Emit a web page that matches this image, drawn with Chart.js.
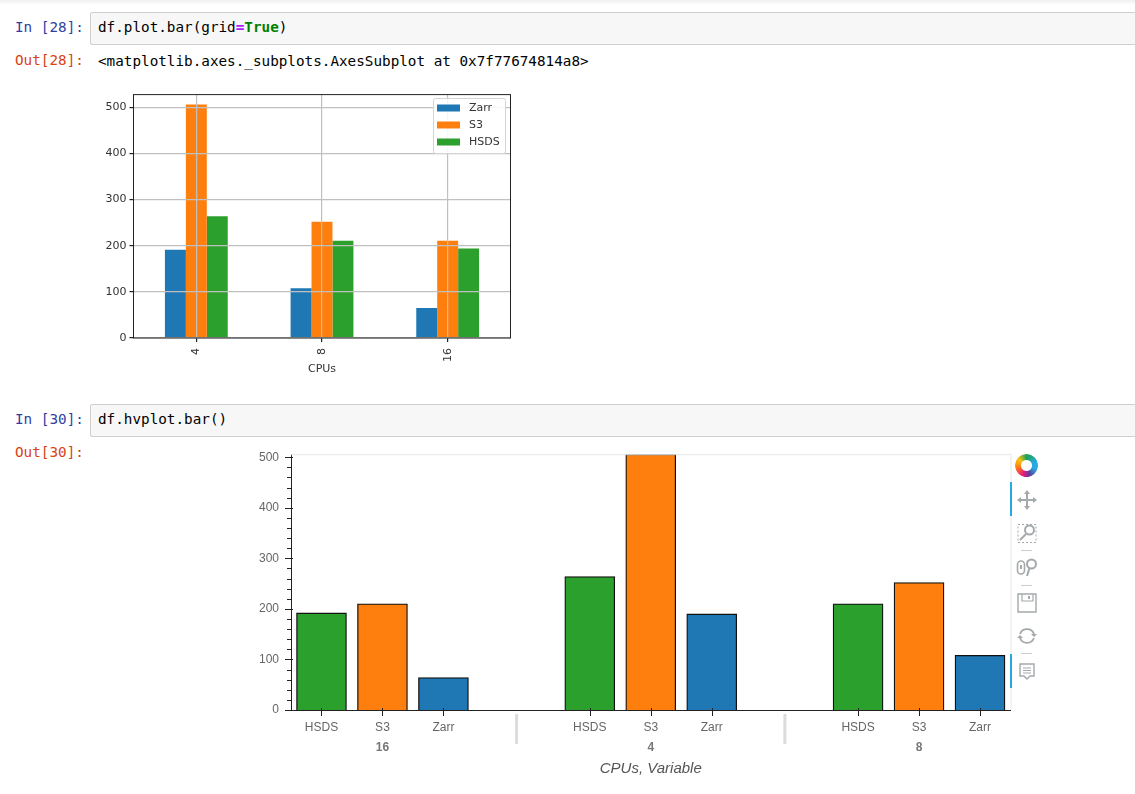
<!DOCTYPE html>
<html>
<head>
<meta charset="utf-8">
<title>df.plot.bar vs df.hvplot.bar</title>
<script src="https://cdn.jsdelivr.net/npm/chart.js@4"></script>
<style>
  html, body { margin: 0; padding: 0; background: #fff; overflow: hidden; }
  body { width: 1135px; height: 794px; position: relative; font-family: "DejaVu Sans Mono", monospace; font-size: 14.3px; }
  .abs { position: absolute; white-space: pre; line-height: 18px; }
  .prompt-in { color: #303F9F; }
  .prompt-out { color: #D84315; }
  .cell { position: absolute; left: 90px; width: 1050px; height: 31px; background: #f7f7f7; border: 1px solid #cfcfcf; border-radius: 2px; }
  .kw { color: #008000; font-weight: bold; }
  .op { color: #AA22FF; font-weight: bold; }
  canvas { position: absolute; }
  #chart1 { left: 100px; top: 85px; filter: blur(0.35px); }
  #chart2 { left: 240px; top: 443px; }
  #topbar { position: absolute; left: 0; top: 0; width: 1135px; height: 5px; background: linear-gradient(#f0f0f0, #fff); }
  .tool { position: absolute; }
  .stripe { position: absolute; left: 1010px; width: 2px; height: 34px; background: #26aae1; }
  .sep { position: absolute; left: 1021px; width: 11px; height: 1px; background: #ccc; }
  #logo { position: absolute; left: 1015px; top: 454px; width: 23px; height: 23px; border-radius: 50%;
    background: conic-gradient(#1f9f50, #26aae1 70deg, #26aae1 110deg, #5b3f9e 160deg, #e6197f 200deg, #ff7f0e 260deg, #f5c518 310deg, #1f9f50);
    -webkit-mask: radial-gradient(circle, transparent 5px, #000 6px); mask: radial-gradient(circle, transparent 5px, #000 6px); }
</style>
</head>
<body>
<div id="topbar"></div>

<div class="abs prompt-in" style="left:15px;top:18px">In [28]:</div>
<div class="cell" style="top:12px"></div>
<div class="abs" style="left:98px;top:18px">df.plot.bar(grid<span class="op">=</span><span class="kw">True</span>)</div>
<div class="abs prompt-out" style="left:15px;top:51px">Out[28]:</div>
<div class="abs" style="left:98px;top:52px">&lt;matplotlib.axes._subplots.AxesSubplot at 0x7f77674814a8&gt;</div>

<canvas id="chart1" width="420" height="295"></canvas>

<div class="abs prompt-in" style="left:15px;top:410px">In [30]:</div>
<div class="cell" style="top:404px"></div>
<div class="abs" style="left:98px;top:410px">df.hvplot.bar()</div>
<div class="abs prompt-out" style="left:15px;top:443px">Out[30]:</div>

<canvas id="chart2" width="780" height="342"></canvas>

<!-- bokeh toolbar -->
<div id="logo"></div>
<div class="stripe" style="top:482px"></div>
<div class="stripe" style="top:654px"></div>
<div class="sep" style="top:550px"></div>
<div class="sep" style="top:585px"></div>
<div class="sep" style="top:653px"></div>
<svg class="tool" style="left:1016px;top:489px" width="22" height="22" viewBox="0 0 22 22" fill="#a4a9ab" stroke="#a4a9ab">
  <path d="M11 3V19M3 11H19" stroke-width="2" fill="none"/>
  <path d="M11 1l3 4H8zM11 21l3-4H8zM1 11l4-3v6zM21 11l-4-3v6z" stroke="none"/>
</svg>
<svg class="tool" style="left:1016px;top:522px" width="22" height="22" viewBox="0 0 22 22" fill="none" stroke="#a4a9ab">
  <rect x="2" y="2.5" width="18" height="18" stroke-dasharray="2 2"/>
  <circle cx="13.5" cy="8" r="4.5" stroke-width="2"/>
  <path d="M10 12L4 18" stroke-width="2"/>
</svg>
<svg class="tool" style="left:1016px;top:557px" width="22" height="22" viewBox="0 0 22 22" fill="none" stroke="#a4a9ab">
  <rect x="1.5" y="4" width="7" height="13" rx="3.5" stroke-width="1.6"/>
  <path d="M5 8V12" stroke-width="2"/>
  <circle cx="15.5" cy="7" r="4.5" stroke-width="2"/>
  <path d="M13.5 11L11 19" stroke-width="2"/>
</svg>
<svg class="tool" style="left:1016px;top:592px" width="22" height="22" viewBox="0 0 22 22" fill="none" stroke="#a4a9ab">
  <path d="M2 2H20V20H2Z" stroke-width="1.4"/>
  <path d="M6 2V9H17V2" stroke-width="1.2"/>
  <path d="M13 4V7" stroke-width="2"/>
</svg>
<svg class="tool" style="left:1016px;top:625px" width="22" height="22" viewBox="0 0 22 22" fill="none" stroke="#a4a9ab" stroke-width="1.8">
  <path d="M4 9A7.5 7.5 0 0 1 18 9"/>
  <path d="M18 13A7.5 7.5 0 0 1 4 13"/>
  <path d="M15 9H21L18 12ZM1 13H7L4 10Z" fill="#a4a9ab" stroke="none"/>
</svg>
<svg class="tool" style="left:1016px;top:661px" width="22" height="22" viewBox="0 0 22 22" fill="none" stroke="#a4a9ab" stroke-width="1.4">
  <path d="M4 3H18V15H14L11 18L8 15H4Z"/>
  <path d="M7 7H15M7 9.5H15M7 12H15" stroke-width="1"/>
</svg>

<script>
// matplotlib chart
const cpus = ["4", "8", "16"];
const zarr = [191, 108, 65];
const s3 = [506, 252, 211];
const hsds = [264, 211, 194];
const mplTicks = [0, 100, 200, 300, 400, 500];

// hvplot chart, order as in the picture
const hvGroups = ["16", "4", "8"];
const hvVariables = ["HSDS", "S3", "Zarr"];
const hvHsds = [192, 264, 210];
const hvS3 = [210, 506, 252];
const hvZarr = [64, 190, 108];
const hvTicks = [0, 100, 200, 300, 400, 500];

const BLUE = "#1f77b4", ORANGE = "#ff7f0e", GREEN = "#2ca02c";
const mplFont = { family: "'DejaVu Sans'", size: 11 };
const hvFont = { family: "'Liberation Sans'", size: 12 };

// matplotlib legend: frame over the grid lines, swatches and names from the datasets
const mplLegend = {
  id: "mplLegend",
  afterDraw(chart) {
    const c = chart.ctx;
    c.save();
    c.fillStyle = "rgba(255,255,255,0.85)";
    c.strokeStyle = "#d4d4d4";
    c.beginPath();
    c.roundRect(333.5, 13.5, 72, 55, 2);
    c.fill();
    c.stroke();
    c.font = "11px 'DejaVu Sans'";
    c.textBaseline = "middle";
    chart.data.datasets.forEach((ds, i) => {
      const rowY = 23 + i * 17;
      c.fillStyle = ds.backgroundColor;
      c.fillRect(337, rowY - 3.5, 23, 7);
      c.fillStyle = "#333";
      c.fillText(ds.label, 369, rowY);
    });
    c.restore();
  }
};

const mplBox = {
  id: "mplBox",
  afterDraw(chart) {
    const a = chart.chartArea, c = chart.ctx;
    c.save();
    c.strokeStyle = "#222";
    c.strokeRect(a.left, a.top, a.right - a.left, a.bottom - a.top);
    c.restore();
  }
};

new Chart(document.getElementById("chart1"), {
  type: "bar",
  data: {
    labels: cpus,
    datasets: [
      { label: "Zarr", data: zarr, backgroundColor: BLUE },
      { label: "S3", data: s3, backgroundColor: ORANGE },
      { label: "HSDS", data: hsds, backgroundColor: GREEN }
    ]
  },
  options: {
    responsive: false,
    animation: false,
    layout: { padding: { top: 9, right: 9.5, left: 0, bottom: 0 } },
    datasets: { bar: { categoryPercentage: 0.5, barPercentage: 1 } },
    plugins: { tooltip: { enabled: false }, legend: { display: false } },
    scales: {
      x: {
        afterFit(scale) { scale.height = 42; },
        grid: { z: 1, color: "#c0c0c0", lineWidth: 1.2, offset: false, tickColor: "#222", tickLength: 4 },
        border: { display: false },
        ticks: { color: "#333", font: mplFont, minRotation: 90, maxRotation: 90, padding: 6 },
        title: { display: true, text: "CPUs", color: "#333", font: mplFont, padding: { top: 2, bottom: 4 } }
      },
      y: {
        min: 0,
        max: 527.5,
        afterFit(scale) { scale.width = 33.5; },
        afterBuildTicks(scale) { scale.ticks = mplTicks.map(v => ({ value: v })); },
        grid: { z: 1, color: "#c0c0c0", lineWidth: 1.2, tickColor: "#222", tickLength: 4 },
        border: { display: false },
        ticks: { color: "#333", font: mplFont, padding: 3 }
      }
    }
  },
  plugins: [mplLegend, mplBox]
});

// x positions in factor units, bokeh puts 1.4 factors between groups
const GROUP_PAD = 1.4;
const hvPos = (g, v) => 0.5 + g * (hvVariables.length + GROUP_PAD) + v;
const hvValues = [hvHsds, hvS3, hvZarr];
const hvColors = [GREEN, ORANGE, BLUE];

const hvPoints = [], hvBarColors = [], hvTickPos = [], hvTickText = [];
hvGroups.forEach((group, g) => {
  hvVariables.forEach((name, v) => {
    hvPoints.push({ x: hvPos(g, v), y: hvValues[v][g] });
    hvBarColors.push(hvColors[v]);
    hvTickPos.push(hvPos(g, v));
    hvTickText.push(name);
  });
});

// ticks, group labels and separators of the bokeh axes
const hvAxes = {
  id: "hvAxes",
  afterDraw(chart) {
    const c = chart.ctx, x = chart.scales.x, y = chart.scales.y, a = chart.chartArea;
    c.save();
    c.strokeStyle = "#e6e6e6";
    c.beginPath();
    c.moveTo(a.left, a.top + 0.5);
    c.lineTo(a.right + 0.5, a.top + 0.5);
    c.lineTo(a.right + 0.5, a.bottom);
    c.stroke();

    c.strokeStyle = "#222";
    c.lineWidth = 1;
    y.ticks.forEach(t => {
      const py = Math.round(y.getPixelForValue(t.value)) + 0.5;
      const major = t.value % 100 === 0;
      c.beginPath();
      c.moveTo(a.left - (major ? 6 : 4), py);
      c.lineTo(a.left + (major ? 2 : 0), py);
      c.stroke();
    });
    hvTickPos.forEach(v => {
      const px = Math.round(x.getPixelForValue(v)) + 0.5;
      c.beginPath();
      c.moveTo(px, a.bottom - 2);
      c.lineTo(px, a.bottom + 6);
      c.stroke();
    });

    c.strokeStyle = "#dcdcdc";
    c.lineWidth = 3;
    for (let g = 1; g < hvGroups.length; g++) {
      const px = x.getPixelForValue((hvPos(g - 1, 2) + hvPos(g, 0)) / 2);
      c.beginPath();
      c.moveTo(px, a.bottom + 4);
      c.lineTo(px, a.bottom + 34);
      c.stroke();
    }

    c.fillStyle = "#777";
    c.font = "bold 12px 'Liberation Sans'";
    c.textAlign = "center";
    c.textBaseline = "middle";
    hvGroups.forEach((group, g) => {
      c.fillText(group, x.getPixelForValue(hvPos(g, 1)), a.bottom + 38);
    });
    c.restore();
  }
};

new Chart(document.getElementById("chart2"), {
  type: "bar",
  data: {
    datasets: [{
      data: hvPoints,
      backgroundColor: hvBarColors,
      borderColor: "#111",
      borderWidth: 1.3,
      barThickness: 50
    }]
  },
  options: {
    responsive: false,
    animation: false,
    layout: { padding: { top: 2, right: 9.5, left: 0, bottom: 0 } },
    plugins: { legend: { display: false }, tooltip: { enabled: false } },
    scales: {
      x: {
        type: "linear",
        offset: false,
        min: 0,
        max: 11.8,
        afterFit(scale) { scale.height = 75; },
        afterBuildTicks(scale) { scale.ticks = hvTickPos.map(v => ({ value: v })); },
        grid: { display: false, offset: false },
        border: { color: "#222" },
        ticks: {
          autoSkip: false,
          maxRotation: 0,
          color: "#666",
          font: hvFont,
          padding: 2,
          callback: (value, i) => hvTickText[i]
        },
        title: {
          display: true,
          text: "CPUs, Variable",
          color: "#555",
          font: { family: "'Liberation Sans'", size: 15, style: "italic" },
          padding: { top: 0, bottom: 7 }
        }
      },
      y: {
        min: 0,
        max: 506,
        afterFit(scale) { scale.width = 51; },
        grid: { display: false },
        border: { color: "#222" },
        ticks: {
          stepSize: 20,
          includeBounds: false,
          autoSkip: false,
          color: "#666",
          font: hvFont,
          padding: 4,
          callback: v => (hvTicks.includes(v) ? String(v) : "")
        }
      }
    }
  },
  plugins: [hvAxes]
});
</script>
</body>
</html>
